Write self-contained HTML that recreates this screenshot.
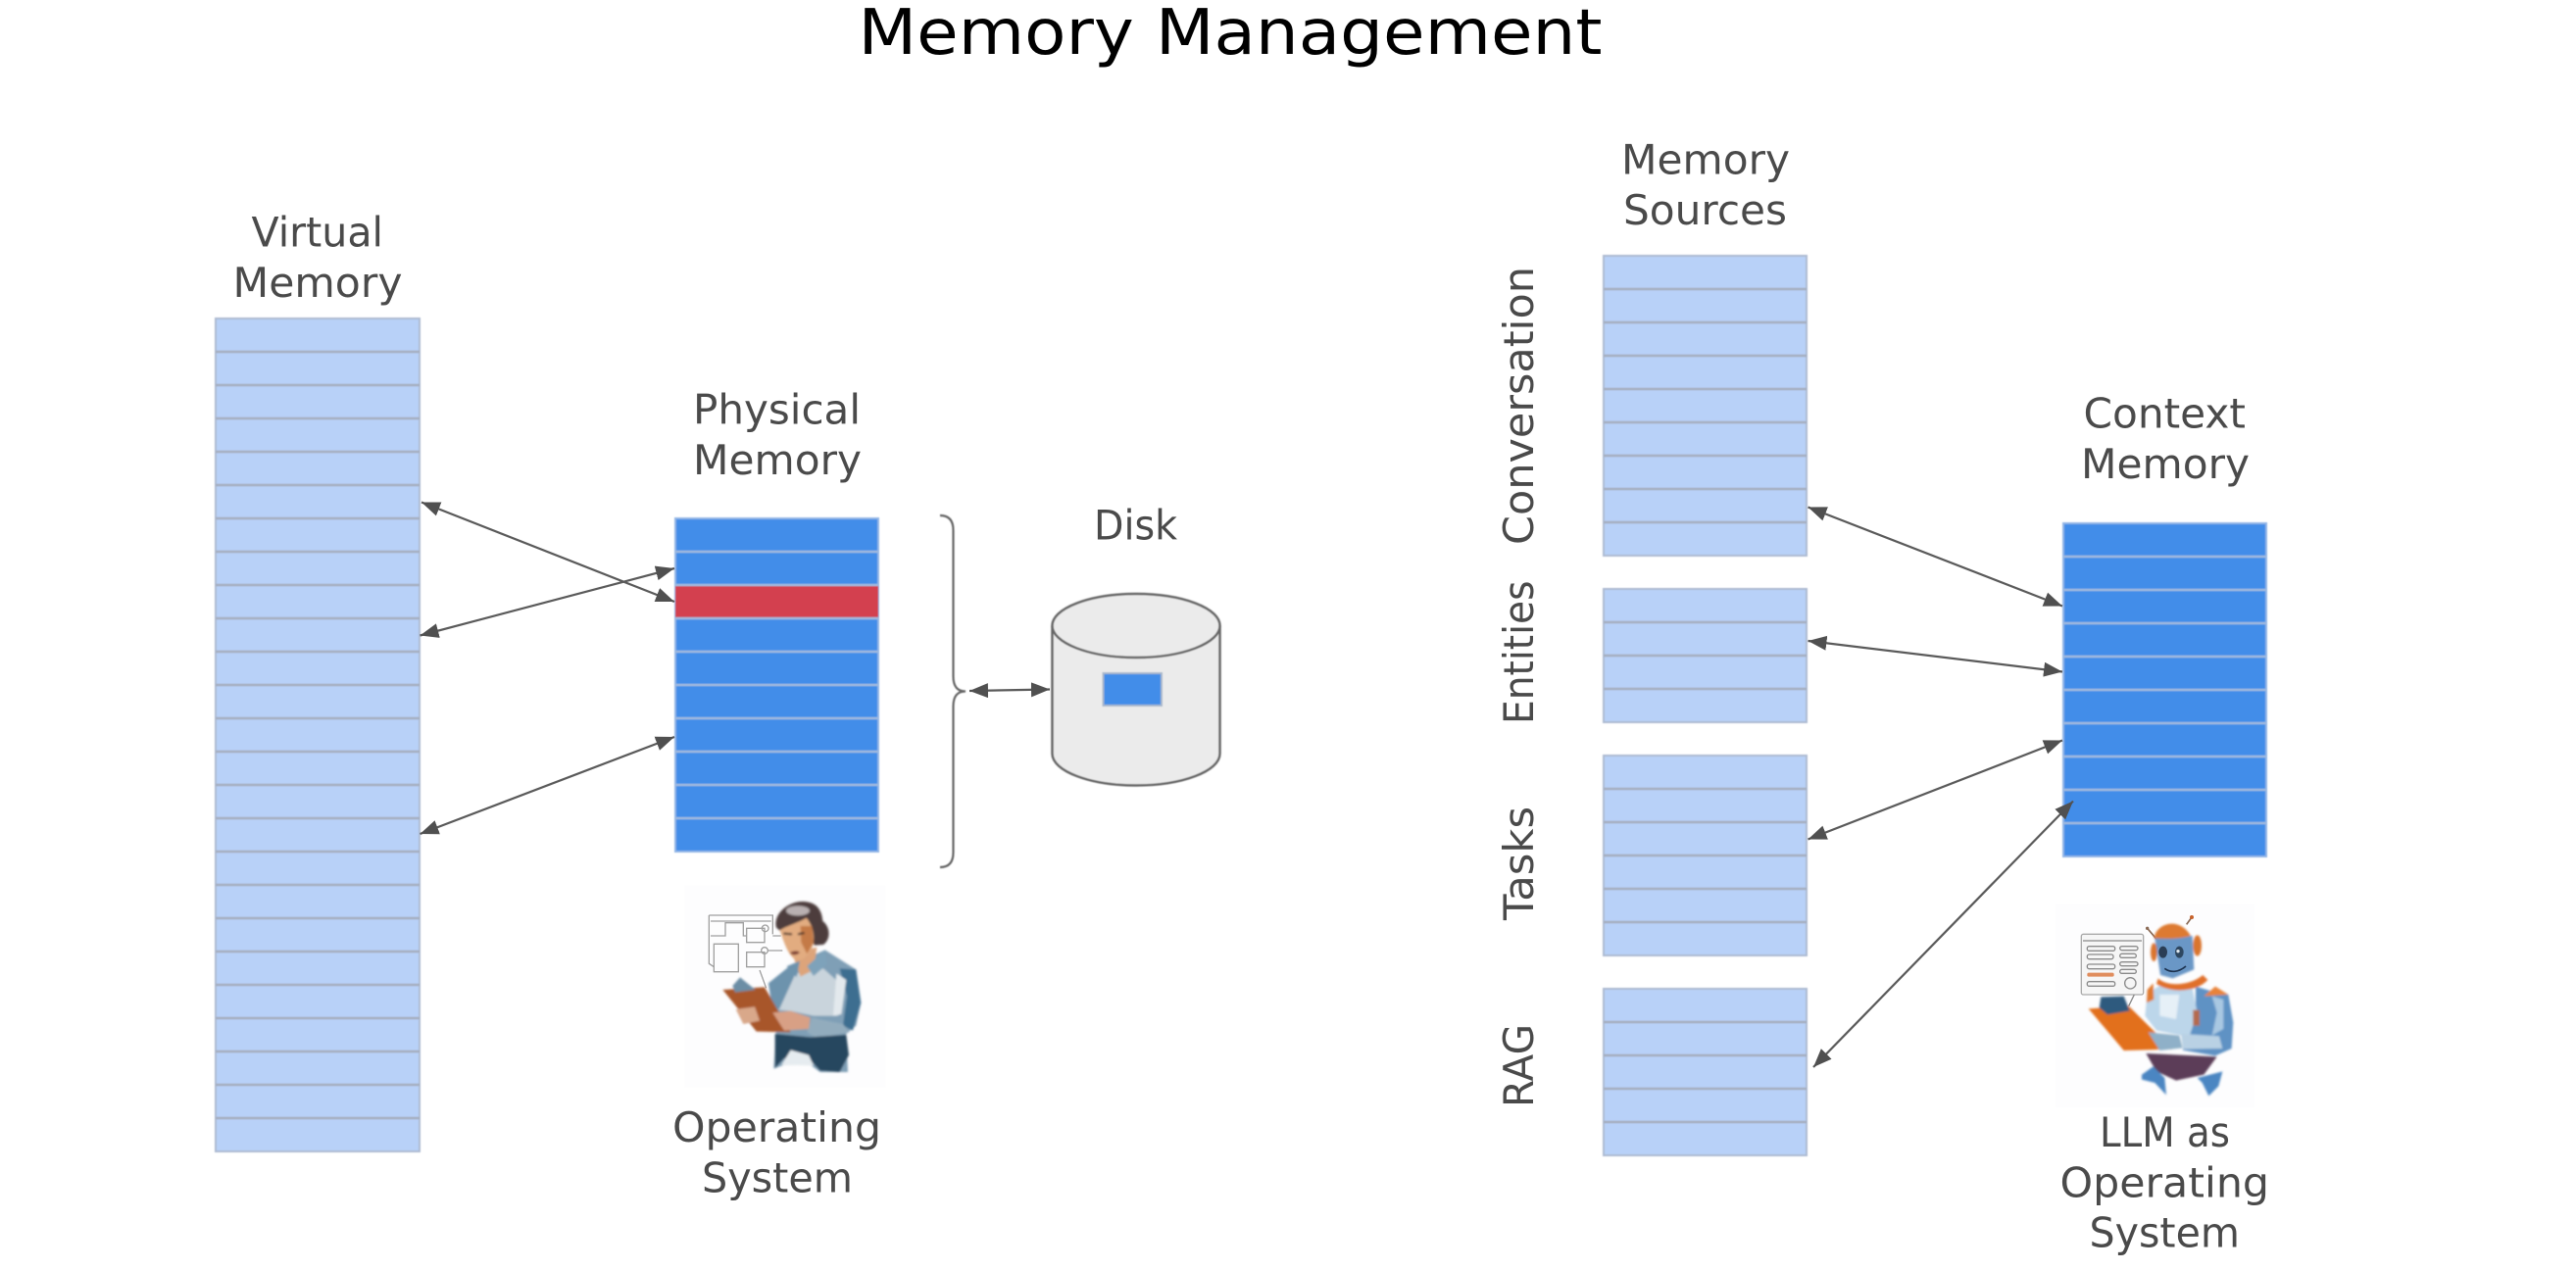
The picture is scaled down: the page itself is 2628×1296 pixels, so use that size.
<!DOCTYPE html>
<html><head><meta charset="utf-8"><title>Memory Management</title>
<style>
html,body{margin:0;padding:0;background:#fff;width:2628px;height:1296px;overflow:hidden}
svg{display:block}
text{font-family:"DejaVu Sans","Liberation Sans",sans-serif;font-size:42px;fill:#4a4a4a}
</style></head><body>
<svg width="2628" height="1296" viewBox="0 0 2628 1296" xmlns="http://www.w3.org/2000/svg">
<defs>
<marker id="a" markerUnits="userSpaceOnUse" markerWidth="20" markerHeight="16" refX="19" refY="7.500" orient="auto-start-reverse"><path d="M0 0L19 7.500L0 15z" fill="#505050"/></marker>
<filter id="b" x="-5%" y="-5%" width="110%" height="110%"><feGaussianBlur stdDeviation="3"/></filter>
<filter id="s" x="-5%" y="-5%" width="110%" height="110%"><feGaussianBlur stdDeviation="0.5"/></filter>
</defs>

<text x="875.500" y="55" textLength="759" lengthAdjust="spacingAndGlyphs" style="font-size:64px;fill:#000">Memory Management</text>

<!-- Virtual memory -->
<g filter="url(#s)">
<rect x="220" y="325" width="208" height="850" fill="#b8d1f8" stroke="#aebbd2" stroke-width="2"/>
<path d="M220 359H428M220 393H428M220 427H428M220 461H428M220 495H428M220 529H428M220 563H428M220 597H428M220 631H428M220 665H428M220 699H428M220 733H428M220 767H428M220 801H428M220 835H428M220 869H428M220 903H428M220 937H428M220 971H428M220 1005H428M220 1039H428M220 1073H428M220 1107H428M220 1141H428" stroke="#a5aebf" stroke-width="2.500" fill="none"/>

<!-- Physical memory -->
<rect x="689" y="529" width="207" height="340" fill="#428de9" stroke="#93b6e6" stroke-width="2"/>
<rect x="689" y="597" width="207" height="34" fill="#d33f4f"/>
<path d="M689 563H896M689 597H896M689 631H896M689 665H896M689 699H896M689 733H896M689 767H896M689 801H896M689 835H896" stroke="#a0b9de" stroke-width="2.500" fill="none"/>

<!-- Memory sources -->
<rect x="1636" y="261" width="207" height="306" fill="#b8d1f8" stroke="#aebbd2" stroke-width="2"/>
<path d="M1636 295H1843M1636 329H1843M1636 363H1843M1636 397H1843M1636 431H1843M1636 465H1843M1636 499H1843M1636 533H1843" stroke="#a5aebf" stroke-width="2.500" fill="none"/>
<rect x="1636" y="601" width="207" height="136" fill="#b8d1f8" stroke="#aebbd2" stroke-width="2"/>
<path d="M1636 635H1843M1636 669H1843M1636 703H1843" stroke="#a5aebf" stroke-width="2.500" fill="none"/>
<rect x="1636" y="771" width="207" height="204" fill="#b8d1f8" stroke="#aebbd2" stroke-width="2"/>
<path d="M1636 805H1843M1636 839H1843M1636 873H1843M1636 907H1843M1636 941H1843" stroke="#a5aebf" stroke-width="2.500" fill="none"/>
<rect x="1636" y="1009" width="207" height="170" fill="#b8d1f8" stroke="#aebbd2" stroke-width="2"/>
<path d="M1636 1043H1843M1636 1077H1843M1636 1111H1843M1636 1145H1843" stroke="#a5aebf" stroke-width="2.500" fill="none"/>

<!-- Context memory -->
<rect x="2105" y="534" width="207" height="340" fill="#428de9" stroke="#93b6e6" stroke-width="2"/>
<path d="M2105 568H2312M2105 602H2312M2105 636H2312M2105 670H2312M2105 704H2312M2105 738H2312M2105 772H2312M2105 806H2312M2105 840H2312" stroke="#a0b9de" stroke-width="2.500" fill="none"/>

<!-- Disk -->
<path d="M1073.500 638.500V769C1073.500 787 1112 801.500 1159 801.500S1244.500 787 1244.500 769V638.500" fill="#ebebeb" stroke="#666" stroke-width="2.500"/>
<ellipse cx="1159" cy="638.500" rx="85.500" ry="32.500" fill="#ebebeb" stroke="#666" stroke-width="2.500"/>
<rect x="1125.500" y="687" width="59.500" height="33" fill="#428de9" stroke="#a9b8cc" stroke-width="2"/>

<!-- Brace -->
<path d="M959 526C968 526 972.500 531 972.500 541V690C972.500 701 977 705.500 985 705.500C977 705.500 972.500 710 972.500 721V870C972.500 880 968 885 959 885" fill="none" stroke="#666" stroke-width="2.200"/>
</g>

<!-- Arrows -->
<g stroke="#5a5a5a" stroke-width="2.200" fill="none">
<line x1="430" y1="512.500" x2="688" y2="614" marker-start="url(#a)" marker-end="url(#a)"/>
<line x1="428.500" y1="648.500" x2="688" y2="580" marker-start="url(#a)" marker-end="url(#a)"/>
<line x1="428.500" y1="851" x2="688" y2="752" marker-start="url(#a)" marker-end="url(#a)"/>
<line x1="989" y1="705" x2="1071" y2="703.500" marker-start="url(#a)" marker-end="url(#a)"/>
<line x1="1844.500" y1="517.500" x2="2104" y2="618.500" marker-start="url(#a)" marker-end="url(#a)"/>
<line x1="1844.500" y1="654" x2="2104" y2="685.500" marker-start="url(#a)" marker-end="url(#a)"/>
<line x1="1844.500" y1="856.500" x2="2104" y2="755.500" marker-start="url(#a)" marker-end="url(#a)"/>
<line x1="1850" y1="1089" x2="2115" y2="817.500" marker-start="url(#a)" marker-end="url(#a)"/>
</g>

<!-- Labels -->
<text x="256.500" y="251.500" textLength="134.500" lengthAdjust="spacingAndGlyphs">Virtual</text>
<text x="237.500" y="303" textLength="173" lengthAdjust="spacingAndGlyphs">Memory</text>
<text x="707" y="432.500" textLength="171" lengthAdjust="spacingAndGlyphs">Physical</text>
<text x="707" y="484" textLength="172" lengthAdjust="spacingAndGlyphs">Memory</text>
<text x="1116" y="550.500" textLength="85" lengthAdjust="spacingAndGlyphs">Disk</text>
<text x="686" y="1165" textLength="213" lengthAdjust="spacingAndGlyphs">Operating</text>
<text x="716" y="1216.500" textLength="154" lengthAdjust="spacingAndGlyphs">System</text>
<text x="1654" y="177.500" textLength="172" lengthAdjust="spacingAndGlyphs">Memory</text>
<text x="1656" y="229" textLength="167" lengthAdjust="spacingAndGlyphs">Sources</text>
<text x="2125.500" y="436.500" textLength="165.500" lengthAdjust="spacingAndGlyphs">Context</text>
<text x="2123" y="488" textLength="172" lengthAdjust="spacingAndGlyphs">Memory</text>
<text x="2142" y="1170" textLength="133" lengthAdjust="spacingAndGlyphs">LLM as</text>
<text x="2101.500" y="1221.500" textLength="213.500" lengthAdjust="spacingAndGlyphs">Operating</text>
<text x="2131.500" y="1272.500" textLength="153.500" lengthAdjust="spacingAndGlyphs">System</text>
<text transform="translate(1564,556) rotate(-90)" textLength="284" lengthAdjust="spacingAndGlyphs">Conversation</text>
<text transform="translate(1564,739) rotate(-90)" textLength="146.500" lengthAdjust="spacingAndGlyphs">Entities</text>
<text transform="translate(1564,939) rotate(-90)" textLength="116" lengthAdjust="spacingAndGlyphs">Tasks</text>
<text transform="translate(1564,1130) rotate(-90)" textLength="85" lengthAdjust="spacingAndGlyphs">RAG</text>

<!-- Woman illustration (drawn in 3x coordinates) -->
<g transform="translate(660,890) scale(0.33333)">
<rect x="115" y="40" width="615" height="620" fill="#fdfdfe"/>
<g fill="none" stroke="#a0a0a0" stroke-width="4" filter="url(#s)">
<path d="M190 132H385V190M190 132V280L205 290M195 150H380M195 195H240V155H295V195H305V172H360V215H305V195M205 220H280V305H205zM305 245H360V290H305zM345 300L365 355M370 240H415M385 195H410"/>
<circle cx="362" cy="172" r="10"/><circle cx="360" cy="240" r="10"/>
</g>
<g filter="url(#b)">
<!-- shirt base -->
<path d="M440 285L470 272L545 238L640 298L655 400L640 470L610 495L615 612L530 612L500 590L420 590L388 602L395 490L385 430L372 340z" fill="#7f9fb6"/>
<!-- sleeve shadow -->
<path d="M590 295L640 298L655 400L630 485L600 470L612 380z" fill="#3c6e90"/>
<!-- shirt centre -->
<path d="M455 310L540 295L590 340L585 440L510 440L440 425L385 420L375 345z" fill="#c9d4dc"/>
<path d="M580 310L610 330L595 435L570 440z" fill="#e3e9ed"/>
<path d="M372 340L440 285L455 310L405 420L385 420z" fill="#6d93ad"/>
<!-- forearm -->
<path d="M505 445L600 465L620 490L520 510L490 490z" fill="#92acbd"/>
<!-- lower shirt -->
<path d="M392 495L500 505L610 498L618 560L590 612L530 608L490 565L420 570L392 600z" fill="#27465e"/>
<path d="M412 590L440 545L495 560L510 592z" fill="#e6ecf0"/>
<!-- neck and collar -->
<path d="M445 250L520 230L510 300L470 320z" fill="#dda47a"/>
<path d="M490 288L545 238L552 282L510 318z" fill="#7ea2ba"/>
<path d="M428 288L468 272L458 322z" fill="#6d93ad"/>
<!-- hair -->
<path d="M396 170C385 130 430 88 480 90C520 92 535 115 538 150C560 165 565 205 540 222L512 224L490 170L410 182z" fill="#4d3e3c"/>
<ellipse cx="462" cy="118" rx="36" ry="15" fill="#b9b0b1"/>
<!-- face -->
<path d="M407 178C425 165 465 155 488 140C505 160 515 190 508 225C495 255 480 268 462 270C440 265 425 235 407 178z" fill="#e2ac80"/>
<path d="M470 165L505 165L510 215L490 250L472 215z" fill="#c47a46"/>
<path d="M418 188L444 190M462 190L482 186" stroke="#3c2b26" stroke-width="6" fill="none"/>
<path d="M438 247C448 240 462 240 468 246C458 255 446 255 438 247z" fill="#7a3a30"/>
<!-- clipboard -->
<path d="M232 360L360 352L440 490L335 488z" fill="#a8572c"/>
<path d="M262 348L285 322L332 360L270 368z" fill="#6c8ea5"/>
<!-- hands -->
<path d="M272 420L330 412L345 455L295 465z" fill="#d9a88a"/>
<path d="M385 430L440 425L500 445L495 480L420 485z" fill="#d8a085"/>
</g>
</g>

<!-- Robot illustration (drawn in 3x coordinates) -->
<g transform="translate(2060,900) scale(0.33333)">
<rect x="110" y="68" width="610" height="622" fill="#fdfdfe"/>
<g filter="url(#s)">
<rect x="190" y="160" width="190" height="185" rx="6" fill="#f6f6f6" stroke="#aaa" stroke-width="4"/>
<g fill="none" stroke="#8a8a8a" stroke-width="4">
<path d="M195 180H375M352 345L335 380"/>
<rect x="208" y="197" width="85" height="14" rx="6"/><rect x="208" y="222" width="80" height="14" rx="6"/><rect x="208" y="252" width="85" height="14" rx="6"/><rect x="208" y="305" width="85" height="14" rx="6"/>
<rect x="308" y="197" width="55" height="12" rx="6"/><rect x="308" y="220" width="50" height="12" rx="6"/><rect x="308" y="245" width="55" height="12" rx="6"/><rect x="308" y="268" width="50" height="12" rx="6"/>
<circle cx="340" cy="310" r="17"/>
</g>
<rect x="208" y="278" width="82" height="12" rx="5" fill="#e08d5d"/>
<path d="M392 142L420 175M512 130L528 108" stroke="#8a6a55" stroke-width="5" fill="none"/>
<circle cx="528" cy="108" r="6" fill="#c7622b"/><circle cx="392" cy="142" r="5" fill="#8a6a55"/>
</g>
<g filter="url(#b)">
<!-- hips and rockets -->
<path d="M388 525L605 535L565 590L480 608L420 580z" fill="#5c3e58"/>
<path d="M375 590L410 565L445 600L450 652L415 615L375 605z" fill="#4c86c2"/>
<path d="M545 600L622 580L610 625L580 655L560 615z" fill="#4c86c2"/>
<!-- arm -->
<path d="M540 320L590 335L640 345L655 430L650 510L600 532L500 515L540 400z" fill="#5e92c4"/>
<path d="M590 350L625 360L625 450L590 470L605 400z" fill="#a9c8e2"/>
<!-- torso -->
<path d="M392 340L430 318L530 325L545 400L520 475L420 455L385 410z" fill="#bcd6ea"/>
<path d="M430 345L490 345L480 420L430 410z" fill="#e6f0f7"/>
<path d="M392 330L410 310L412 360L390 370z" fill="#e0792f"/>
<path d="M532 392L552 392L552 440L532 440z" fill="#b46a4e"/>
<!-- forearm -->
<path d="M495 465L612 472L622 510L500 512z" fill="#b9d1e4"/>
<!-- shoulder -->
<path d="M565 350L600 320L640 345z" fill="#e8833a"/>
<!-- collar -->
<path d="M425 295C450 320 520 320 562 285L577 300C540 340 460 340 420 312z" fill="#e0702a"/>
<!-- head -->
<path d="M415 172L530 165L535 268L470 295L432 285z" fill="#6b97c6"/>
<path d="M412 172C420 125 490 105 525 165C490 175 450 175 412 172z" fill="#dd7a33"/>
<ellipse cx="545" cy="195" rx="13" ry="32" fill="#d9742f"/>
<ellipse cx="412" cy="215" rx="10" ry="28" fill="#d9742f"/>
</g>
<g filter="url(#s)">
<ellipse cx="440" cy="215" rx="13" ry="18" fill="#2b3e55"/>
<ellipse cx="490" cy="215" rx="13" ry="18" fill="#2f4661"/>
<circle cx="486" cy="212" r="5" fill="#dfe8ef"/>
<path d="M445 265C465 280 490 275 510 258" stroke="#1e3350" stroke-width="5" fill="none"/>
</g>
<g filter="url(#b)">
<!-- clipboard and hands -->
<path d="M212 388L335 380L468 512L320 516z" fill="#e2701f"/>
<path d="M250 352L320 350L338 395L270 406L245 385z" fill="#2f5a7e"/>
<path d="M395 460L490 470L500 508L430 516z" fill="#8fb0c8"/>
</g>
</g>
</svg>
</body></html>
